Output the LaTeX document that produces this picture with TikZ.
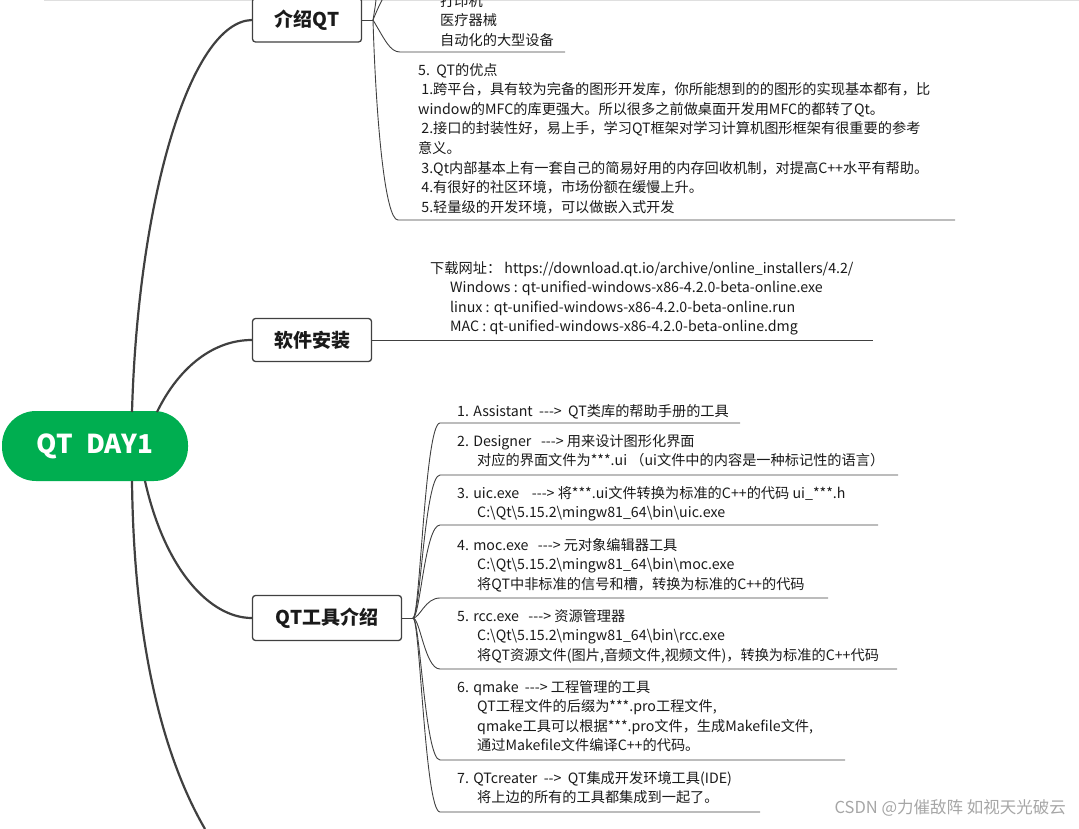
\documentclass[tikz,border=0pt]{standalone}
\usepackage{fontspec}
\setmainfont{Noto Sans CJK SC}[Ligatures=NoCommon]
\definecolor{rootgreen}{HTML}{00AE50}
\definecolor{lin}{HTML}{404040}
\definecolor{txt}{HTML}{1A1A1A}
\newcommand{\arr}{-{}-{}->}
\newcommand{\arrb}{-{}->}
\begin{document}
\begin{tikzpicture}[x=1pt,y=-1pt,
  topicbox/.style={draw=lin,line width=1.3pt,rounded corners=3pt,fill=white,font=\fontsize{19}{22}\selectfont\bfseries,text=txt,inner sep=0pt},
  mainline/.style={draw=lin,line width=2.2pt},
  subline/.style={draw=lin,line width=0.9pt},
  detail/.style={anchor=north west,align=left,font=\fontsize{14.2}{19.6}\selectfont,text=txt,inner sep=0pt}]
\useasboundingbox (0,0) rectangle (1079,829);
\draw[gray!25,line width=2pt] (44,0.5) -- (1079,0.5);
% root
\node[fill=rootgreen,rounded corners=34pt,minimum width=186pt,minimum height=70pt,text=white,font=\fontsize{26}{30}\selectfont\bfseries] (root) at (95,446) {QT\,\,\,DAY1};
% topics
\node[topicbox,minimum width=109pt,minimum height=44pt] (intro) at (307,20) {介绍QT};
\node[topicbox,minimum width=119pt,minimum height=43pt] (inst) at (312,340) {软件安装};
\node[topicbox,minimum width=149pt,minimum height=45pt] (tools) at (327,618) {QT工具介绍};
% main lines
\draw[mainline] (132,412) .. controls (138,200) and (190,22) .. (intro.west);
\draw[mainline] (157,412) .. controls (180,365) and (215,340) .. (inst.west);
\draw[mainline] (145,481) .. controls (165,570) and (210,618) .. (tools.west);
\draw[mainline] (132,481) .. controls (134,650) and (165,760) .. (205,829);
% intro branches
\coordinate (fi) at (373,20);
\draw[subline] (intro.east) -- (fi);
\draw[subline] (fi) .. controls (377,10) and (380,4) .. (383,-2);
\draw[subline] (fi) .. controls (375,8) and (376,2) .. (376,-2);
\draw[subline] (fi) .. controls (385,40) and (390,52) .. (400,52) -- (565,52);
\draw[subline] (fi) .. controls (376,120) and (385,220) .. (398,220) -- (955,220);
\node[detail] (t1) at (440,-6) {打印机\\医疗器械\\自动化的大型设备};
\node[detail] (t2) at (418,63) {5.\ \ QT的优点\\
\ 1.跨平台，具有较为完备的图形开发库，你所能想到的的图形的实现基本都有，比\\
window的MFC的库更强大。所以很多之前做桌面开发用MFC的都转了Qt。\\
\ 2.接口的封装性好，易上手，学习QT框架对学习计算机图形框架有很重要的参考\\
意义。\\
\ 3.Qt内部基本上有一套自己的简易好用的内存回收机制，对提高C++水平有帮助。\\
\ 4.有很好的社区环境，市场份额在缓慢上升。\\
\ 5.轻量级的开发环境，可以做嵌入式开发};
% install
\draw[subline] (inst.east) -- (873,340);
\node[detail] (t3) at (430,261) {下载网址：\ https://download.qt.io/archive/online\_installers/4.2/\\
\hspace*{20pt}Windows : qt-unified-windows-x86-4.2.0-beta-online.exe\\
\hspace*{20pt}linux : qt-unified-windows-x86-4.2.0-beta-online.run\\
\hspace*{20pt}MAC : qt-unified-windows-x86-4.2.0-beta-online.dmg};
% tools
\coordinate (ft) at (413,618);
\draw[subline] (tools.east) -- (ft);
\foreach \y/\e in {423/740,475/898,525/878,598/828,669/897,760/845,812/760}{
  \draw[subline] (ft) .. controls (420,618) and (425,\y) .. (440,\y) -- (\e,\y);
}
\node[detail] (k1) at (457,404) {1. Assistant\ \ \arr\ \ QT类库的帮助手册的工具};
\node[detail] (k2) at (457,434) {2. Designer\ \ \ \arr\ 用来设计图形化界面\\
\hspace*{20pt}对应的界面文件为***.ui （ui文件中的内容是一种标记性的语言）};
\node[detail] (k3) at (457,486) {3. uic.exe\ \ \ \ \arr\ 将***.ui文件转换为标准的C++的代码 ui\_***.h\\
\hspace*{20pt}C:\textbackslash Qt\textbackslash 5.15.2\textbackslash mingw81\_64\textbackslash bin\textbackslash uic.exe};
\node[detail] (k4) at (457,538) {4. moc.exe\ \ \ \arr\ 元对象编辑器工具\\
\hspace*{20pt}C:\textbackslash Qt\textbackslash 5.15.2\textbackslash mingw81\_64\textbackslash bin\textbackslash moc.exe\\
\hspace*{20pt}将QT中非标准的信号和槽，转换为标准的C++的代码};
\node[detail] (k5) at (457,609) {5. rcc.exe\ \ \ \arr\ 资源管理器\\
\hspace*{20pt}C:\textbackslash Qt\textbackslash 5.15.2\textbackslash mingw81\_64\textbackslash bin\textbackslash rcc.exe\\
\hspace*{20pt}将QT资源文件(图片,音频文件,视频文件)，转换为标准的C++代码};
\node[detail] (k6) at (457,680) {6. qmake\ \ \arr\ 工程管理的工具\\
\hspace*{20pt}QT工程文件的后缀为***.pro工程文件,\\
\hspace*{20pt}qmake工具可以根据***.pro文件，生成Makefile文件,\\
\hspace*{20pt}通过Makefile文件编译C++的代码。};
\node[detail] (k7) at (457,771) {7. QTcreater\ \ \arrb\ \ QT集成开发环境工具(IDE)\\
\hspace*{20pt}将上边的所有的工具都集成到一起了。};
\node[anchor=east,text=gray!70,font=\fontsize{16.5}{18}\selectfont,inner sep=0pt] (wm) at (1066,808) {CSDN @力催敌阵 如视天光破云};
\end{tikzpicture}
\end{document}
